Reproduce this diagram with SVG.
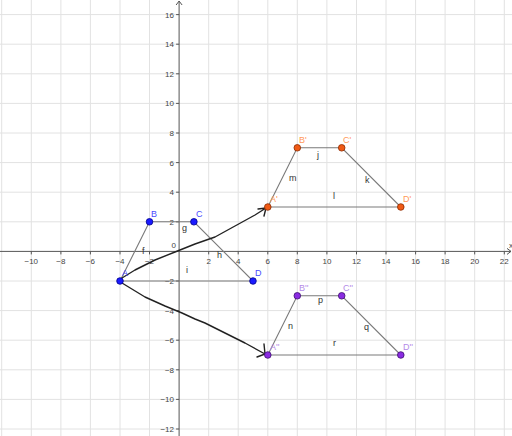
<svg xmlns="http://www.w3.org/2000/svg" width="512" height="436" viewBox="0 0 512 436">
<style>
.grid{stroke:#e2e2e2;stroke-width:1;fill:none}
.axis{stroke:#555;stroke-width:1;fill:none}
.tick{font-family:"Liberation Sans",Arial,sans-serif;font-size:8px;fill:#444}
.seg{stroke:#7a7a7a;stroke-width:1.1;fill:none}
.slab{font-family:"Liberation Sans",Arial,sans-serif;font-size:9px;fill:#333}
.arr{stroke:#222;stroke-width:1.4;fill:none;stroke-linecap:round;stroke-linejoin:round}
.pb{fill:#1a1aff;stroke:#00008a;stroke-width:0.8}
.po{fill:#f05a14;stroke:#8a2a00;stroke-width:0.8}
.pp{fill:#8a2be2;stroke:#3e0f6e;stroke-width:0.8}
.lb{font-family:"Liberation Sans",Arial,sans-serif;font-size:9px;fill:#4a4aff}
.lo{font-family:"Liberation Sans",Arial,sans-serif;font-size:9px;fill:#ff9a5a}
.lp{font-family:"Liberation Sans",Arial,sans-serif;font-size:9px;fill:#b48ae8}
</style>
<rect width="512" height="436" fill="#fff"/>
<g id="grid" class="grid">
<path d="M1.7,0V436M31.3,0V436M60.9,0V436M90.4,0V436M120,0V436M149.5,0V436M208.7,0V436M238.2,0V436M267.8,0V436M297.3,0V436M326.9,0V436M356.5,0V436M386,0V436M415.6,0V436M445.1,0V436M474.7,0V436M504.3,0V436"/>
<path d="M0,14.6H512M0,44.2H512M0,73.8H512M0,103.4H512M0,133H512M0,162.6H512M0,192.2H512M0,221.8H512M0,281H512M0,310.6H512M0,340.2H512M0,369.8H512M0,399.4H512M0,429H512"/>
</g>
<g id="axes">
<path class="axis" d="M0,251.4H511M507,248.4L511,251.4L507,254.4"/>
<path class="axis" d="M179.1,436V1M176.1,5L179.1,1L182.1,5"/>
<path class="axis" d="M31.3,251.4v3M60.9,251.4v3M90.4,251.4v3M120,251.4v3M149.5,251.4v3M208.7,251.4v3M238.2,251.4v3M267.8,251.4v3M297.3,251.4v3M326.9,251.4v3M356.5,251.4v3M386,251.4v3M415.6,251.4v3M445.1,251.4v3M474.7,251.4v3M504.3,251.4v3"/>
<path class="axis" d="M176.1,14.6h3M176.1,44.2h3M176.1,73.8h3M176.1,103.4h3M176.1,133h3M176.1,162.6h3M176.1,192.2h3M176.1,221.8h3M176.1,281h3M176.1,310.6h3M176.1,340.2h3M176.1,369.8h3M176.1,399.4h3M176.1,429h3"/>
<text class="tick" x="509" y="248">x</text>
<g class="tick" text-anchor="middle">
<text x="31.3" y="264">−10</text><text x="60.9" y="264">−8</text><text x="90.4" y="264">−6</text><text x="120" y="264">−4</text><text x="149.5" y="264">−2</text>
<text x="208.7" y="264">2</text><text x="238.2" y="264">4</text><text x="267.8" y="264">6</text><text x="297.3" y="264">8</text><text x="326.9" y="264">10</text><text x="356.5" y="264">12</text><text x="386" y="264">14</text><text x="415.6" y="264">16</text><text x="445.1" y="264">18</text><text x="474.7" y="264">20</text><text x="504.3" y="264">22</text>
</g>
<g class="tick" text-anchor="end">
<text x="174" y="17.6">16</text><text x="174" y="47.2">14</text><text x="174" y="76.8">12</text><text x="174" y="106.4">10</text><text x="174" y="136">8</text><text x="174" y="165.6">6</text><text x="174" y="195.2">4</text><text x="174" y="224.8">2</text><text x="176" y="248">0</text>
<text x="174" y="284">−2</text><text x="174" y="313.6">−4</text><text x="174" y="343.2">−6</text><text x="174" y="372.8">−8</text><text x="174" y="402.4">−10</text><text x="174" y="432">−12</text>
</g>
</g>
<g id="connectors">
<path class="seg" d="M120,281L149.5,221.8L193.9,221.8L253,281Z"/>
<path class="seg" d="M267.8,207L297.3,147.8L341.7,147.8L400.8,207Z"/>
<path class="seg" d="M267.8,355L297.3,295.8L341.7,295.8L400.8,355Z"/>
<path class="arr" d="M122,278L135,270L155,260L175,252L195,244L215,237L235,226L255,215L266,208M258,209L266,208L264,216"/>
<path class="arr" d="M122,283L145,297L165,306L182,313L195,319L205,323L225,333L245,343L265,354M264,344L265,354L257,357"/>
<g class="slab">
<text x="142" y="254">f</text><text x="182" y="231">g</text><text x="217" y="258">h</text><text x="186" y="273">i</text>
<text x="317" y="158">j</text><text x="289" y="181">m</text><text x="365" y="183">k</text><text x="333" y="199">l</text>
<text x="318" y="303">p</text><text x="288" y="329">n</text><text x="364" y="330">q</text><text x="333" y="346">r</text>
</g>
</g>
<g id="A"><circle class="pb" cx="120" cy="281" r="3.3"/><text class="lb" x="122" y="276">A</text></g>
<g id="B"><circle class="pb" cx="149.5" cy="221.8" r="3.3"/><text class="lb" x="151" y="217">B</text></g>
<g id="C"><circle class="pb" cx="193.9" cy="221.8" r="3.3"/><text class="lb" x="196" y="217">C</text></g>
<g id="D"><circle class="pb" cx="253" cy="281" r="3.3"/><text class="lb" x="255" y="276">D</text></g>
<g id="A1"><circle class="po" cx="267.8" cy="207" r="3.3"/><text class="lo" x="270" y="202">A'</text></g>
<g id="B1"><circle class="po" cx="297.3" cy="147.8" r="3.3"/><text class="lo" x="299" y="143">B'</text></g>
<g id="C1"><circle class="po" cx="341.7" cy="147.8" r="3.3"/><text class="lo" x="343" y="143">C'</text></g>
<g id="D1"><circle class="po" cx="400.8" cy="207" r="3.3"/><text class="lo" x="403" y="202">D'</text></g>
<g id="A2"><circle class="pp" cx="267.8" cy="355" r="3.3"/><text class="lp" x="270" y="350">A''</text></g>
<g id="B2"><circle class="pp" cx="297.3" cy="295.8" r="3.3"/><text class="lp" x="299" y="291">B''</text></g>
<g id="C2"><circle class="pp" cx="341.7" cy="295.8" r="3.3"/><text class="lp" x="343" y="291">C''</text></g>
<g id="D2"><circle class="pp" cx="400.8" cy="355" r="3.3"/><text class="lp" x="403" y="350">D''</text></g>
</svg>
